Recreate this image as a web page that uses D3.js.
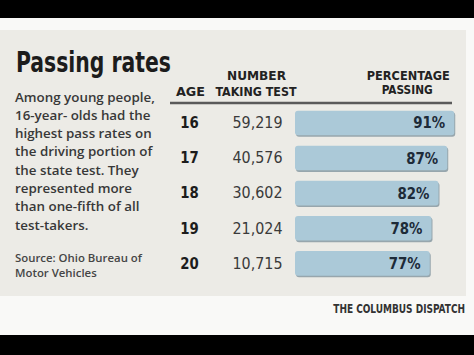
<!DOCTYPE html>
<html><head><meta charset="utf-8">
<script src="https://cdn.jsdelivr.net/npm/d3@7"></script>
<style>html,body{margin:0;padding:0;background:#000;overflow:hidden}</style>
</head><body>
<svg id="c" width="474" height="355"></svg>
<script>
// ---- data ----
const title = "Passing rates";
const bodyLines = [
  "Among young people,",
  "16-year- olds had the",
  "highest pass rates on",
  "the driving portion of",
  "the state test. They",
  "represented more",
  "than one-fifth of all",
  "test-takers."
];
const sourceLines = ["Source: Ohio Bureau of", "Motor Vehicles"];
const ages = ["16", "17", "18", "19", "20"];
const takers = [59219, 40576, 30602, 21024, 10715];
const passing = [91, 87, 82, 78, 77];
const headAge = ["AGE"];
const headNumber = ["NUMBER", "TAKING TEST"];
const headPct = ["PERCENTAGE", "PASSING"];
const credit = "THE COLUMBUS DISPATCH";

// ---- drawing ----
const W = 474, H = 355;
const svg = d3.select("#c");
const COND = "'Liberation Sans Narrow','DejaVu Sans Condensed','Roboto Condensed',Roboto,'Liberation Sans',sans-serif";
const BODY = "'Open Sans','Noto Sans',Lato,sans-serif";
function fit(sel, w) { sel.attr("textLength", w).attr("lengthAdjust", "spacingAndGlyphs"); return sel; }

// frame
svg.append("rect").attr("x", 0).attr("y", 0).attr("width", W).attr("height", H).attr("fill", "#000");
svg.append("rect").attr("x", 0).attr("y", 18).attr("width", W).attr("height", 317).attr("fill", "#f9f9f7");
svg.append("rect").attr("x", 0).attr("y", 30).attr("width", 466).attr("height", 266).attr("fill", "#ecebe6");

// title
fit(svg.append("text").attr("x", 16).attr("y", 71.5)
  .attr("font-family", COND).attr("font-weight", 700).attr("font-size", 28)
  .attr("fill", "#1c1c1c").text(title), 155);

// body paragraph, auto-sized so the first line spans the measured width
const body = svg.append("g").attr("font-family", BODY).attr("font-weight", 600).attr("fill", "#383838");
const lineY = d3.scaleLinear().domain([0, 1]).range([101.5, 119.8]);
const bt = body.selectAll("text").data(bodyLines).join("text")
  .attr("x", 15).attr("y", (d, i) => lineY(i)).attr("font-size", 13.5).text(d => d);
const w0 = bt.nodes()[0].getComputedTextLength();
const bfs = 13.5 * 140 / w0;
bt.attr("font-size", bfs);

// source
const src = svg.append("g").attr("font-family", BODY).attr("font-weight", 600).attr("fill", "#454545");
const srcY = d3.scaleLinear().domain([0, 1]).range([261.5, 276.5]);
const st = src.selectAll("text").data(sourceLines).join("text")
  .attr("x", 15).attr("y", (d, i) => srcY(i)).attr("font-size", 12).text(d => d);
const s0 = st.nodes()[0].getComputedTextLength();
st.attr("font-size", 12 * 127 / s0);

// headers
const hdr = svg.append("g").attr("font-family", COND).attr("font-weight", 700)
  .attr("font-size", 12.5).attr("fill", "#222").attr("text-anchor", "middle");
fit(hdr.append("text").attr("x", 190.5).attr("y", 96).text(headAge[0]), 29);
fit(hdr.append("text").attr("x", 256.5).attr("y", 80).text(headNumber[0]), 59);
fit(hdr.append("text").attr("x", 256).attr("y", 95.7).text(headNumber[1]), 81);
fit(hdr.append("text").attr("x", 408.3).attr("y", 80).text(headPct[0]), 83);
fit(hdr.append("text").attr("x", 407.2).attr("y", 94.3).text(headPct[1]), 51);
svg.append("line").attr("x1", 170).attr("x2", 452).attr("y1", 103).attr("y2", 103)
  .attr("stroke", "#5a5a5a").attr("stroke-width", 2.4);

// scales
const rows = ages.map((a, i) => ({ age: a, n: takers[i], p: passing[i] }));
const y = d3.scaleBand().domain(ages).range([105.4, 280.9]).paddingInner(0.3).paddingOuter(0.15);
const x = d3.scaleLinear().domain([0, 100]).range([295, 470]);
const fmt = d3.format(",");

const g = svg.append("g").selectAll("g").data(rows).join("g");
// bar shadow
g.append("rect").attr("x", x(0) + 1).attr("y", d => y(d.age) + 1.6)
  .attr("width", d => x(d.p) - x(0)).attr("height", y.bandwidth())
  .attr("rx", 3).attr("fill", "#97a6ad");
// bar
g.append("rect").attr("x", x(0)).attr("y", d => y(d.age))
  .attr("width", d => x(d.p) - x(0)).attr("height", y.bandwidth())
  .attr("rx", 3).attr("fill", "#abc9d8");
// age
g.append("text").attr("x", 189.5).attr("y", d => y(d.age) + y.bandwidth() / 2 + 5.3)
  .attr("text-anchor", "middle").attr("font-family", COND).attr("font-weight", 700)
  .attr("font-size", 15.5).attr("fill", "#1c1c1c").text(d => d.age)
  .each(function () { fit(d3.select(this), 18.5); });
// number
g.append("text").attr("x", 282.5).attr("y", d => y(d.age) + y.bandwidth() / 2 + 5.3)
  .attr("text-anchor", "end").attr("font-family", COND).attr("font-weight", 400)
  .attr("font-size", 15.5).attr("fill", "#3a3a3a").text(d => fmt(d.n))
  .each(function () { fit(d3.select(this), 50); });
// percent
g.append("text").attr("x", d => x(d.p) - 9).attr("y", d => y(d.age) + y.bandwidth() / 2 + 5.5)
  .attr("text-anchor", "end").attr("font-family", COND).attr("font-weight", 700)
  .attr("font-size", 15.5).attr("fill", "#1d2b38").text(d => d.p + "%")
  .each(function () { fit(d3.select(this), 32); });

// credit: sized so its natural width fits, stretched vertically to keep cap height
const cg = svg.append("g");
const ct = cg.append("text").attr("x", 0).attr("y", 0).attr("text-anchor", "end")
  .attr("font-family", COND).attr("font-weight", 700).attr("font-size", 12.5)
  .attr("fill", "#333").text(credit);
const cw = ct.node().getComputedTextLength();
const cfs = Math.min(12.5, 12.5 * 132 / cw);
ct.attr("font-size", cfs);
cg.attr("transform", `translate(465,312.5) scale(1,${12.5 / cfs})`);
</script>
</body></html>
